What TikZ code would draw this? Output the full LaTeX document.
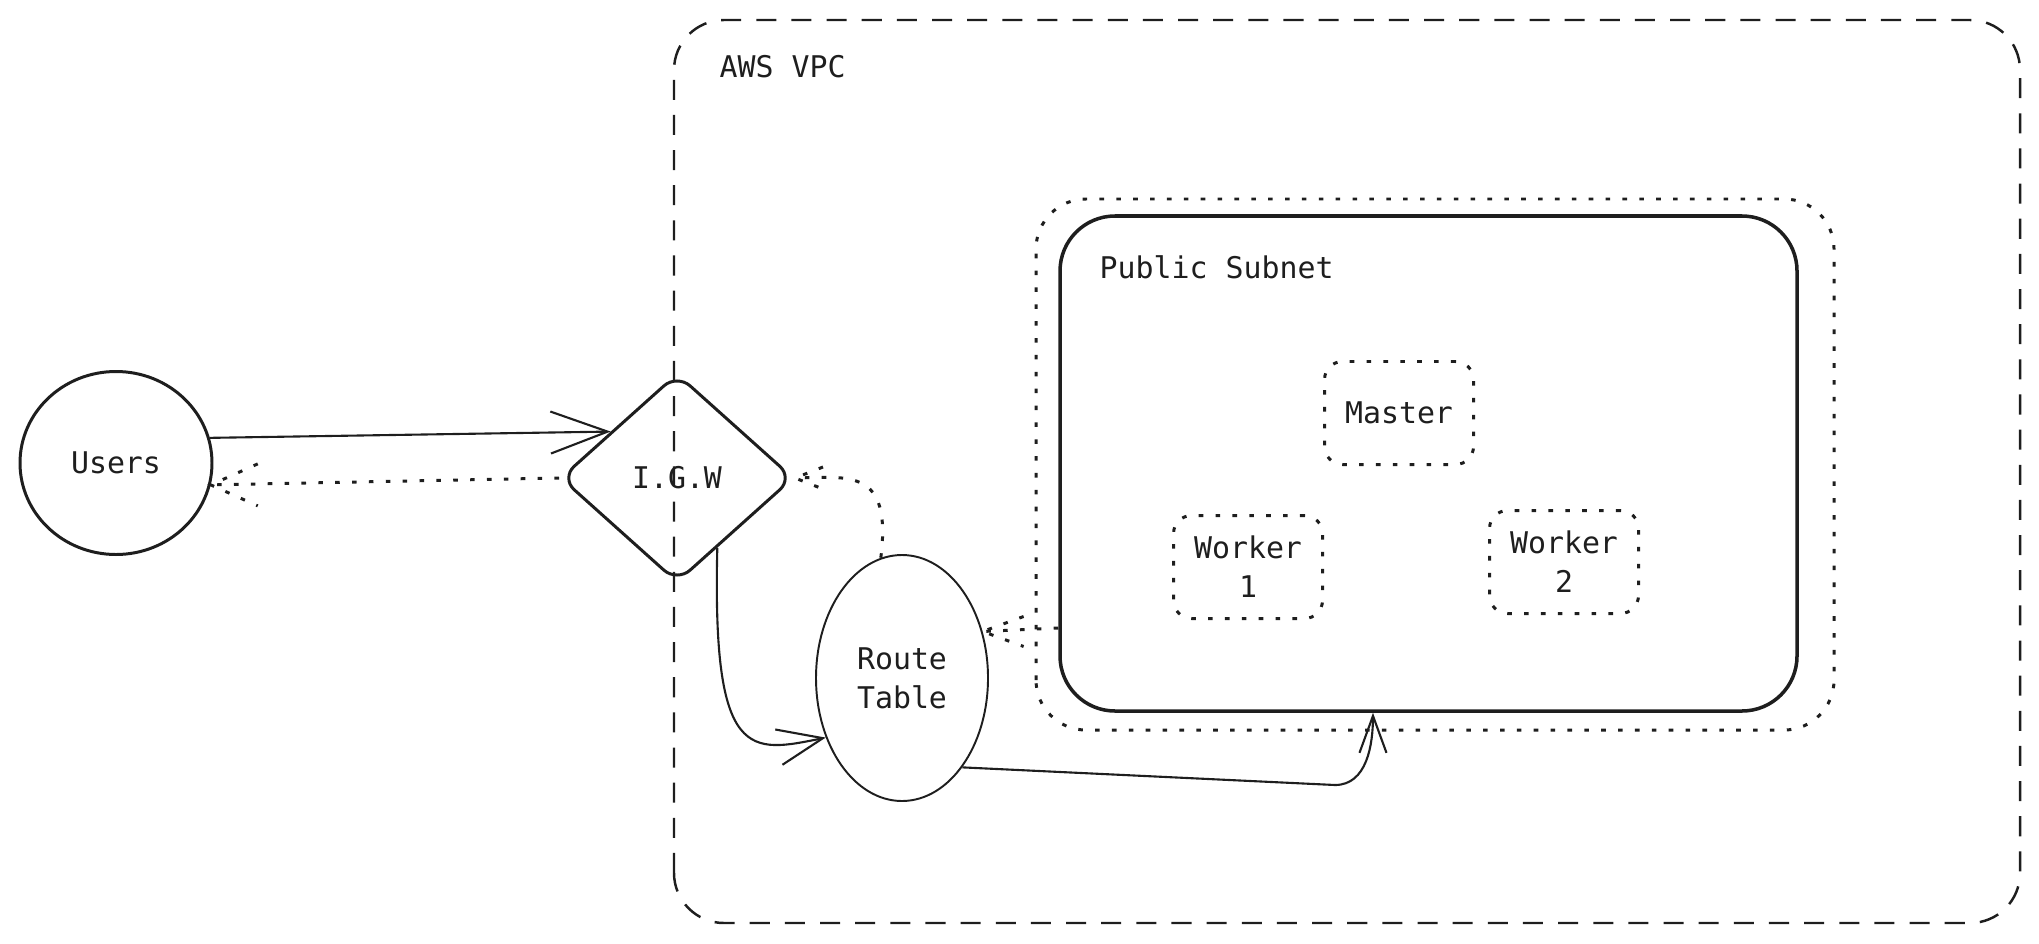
\documentclass[tikz,border=0pt]{standalone}
\usepackage{fontspec}
\newfontfamily\lblfont{DejaVu Sans Mono}
\usepackage{xcolor}
\usepackage{tikz}
\usetikzlibrary{arrows.meta,calc,shapes.geometric}

\definecolor{ink}{HTML}{1E1E1E}

\tikzset{
  txt/.style={font=\lblfont\fontsize{8.5}{11.1}\selectfont, text=ink},
  dotline/.style={dash pattern=on 1.3pt off 3.5pt, line width=0.85pt},
  conn/.style={draw=ink, line width=0.6pt},
  host/.style={txt, draw=ink, dotline, rounded corners=0.18cm, minimum width=1.49cm,
    minimum height=1.03cm, align=center, inner sep=0pt},
}

\begin{document}
\begin{tikzpicture}[>={Straight Barb[length=5.7mm,width=4.2mm]}]
    % 画布
    \useasboundingbox (0,0) rectangle (20.39,9.43);

    % VPC 外框
    \draw[ink, line width=0.7pt, dash pattern=on 5.7pt off 4.3pt, rounded corners=0.5cm]
        (6.74,0.20) rectangle (20.20,9.23);
    \node[txt, anchor=base west, inner sep=0pt] (vpclbl) at (7.19,8.66) {AWS VPC};

    % 公有子网
    \draw[ink, dotline, rounded corners=0.5cm] (10.36,2.13) rectangle (18.34,7.44);
    \node[draw=ink, line width=1pt, rounded corners=0.55cm, minimum width=7.37cm,
        minimum height=4.95cm] (subnet) at (14.285,4.795) {};
    \node[txt, anchor=base west, inner sep=0pt] (sublbl) at (10.99,6.65) {Public Subnet};

    % 主机
    \node[host] (master) at (13.99,5.30) {Master};
    \node[host] (worker1) at (12.48,3.76) {Worker\\1};
    \node[host] (worker2) at (15.64,3.81) {Worker\\2};

    % 用户、网关、路由表
    \node[txt, ellipse, draw=ink, line width=0.85pt, minimum width=1.92cm,
        minimum height=1.83cm, inner sep=0pt] (users) at (1.16,4.80) {Users};
    \node[txt, diamond, draw=ink, line width=0.85pt, rounded corners=5pt, minimum width=2.33cm,
        minimum height=2.09cm, inner sep=0pt] (igw) at (6.77,4.65) {I.G.W};
    \node[txt, ellipse, draw=ink, line width=0.55pt, minimum width=1.72cm,
        minimum height=2.46cm, inner sep=0pt, align=center] (rt) at (9.02,2.65) {Route\\Table};

    % 关键点
    \coordinate (subin) at ($(subnet.south west)!0.425!(subnet.south east)$);
    \coordinate (subout) at ($(subnet.south west)!0.17!(subnet.north west)$);

    % 用户 -> 网关
    \draw[conn,->] (users.15) -- (igw.145);

    % 网关 -> 用户
    \draw[conn, dotline] (igw.west) -- (users.-13);
    \draw[conn, dotline] ($(users.-13)+(0.47,0.21)$) -- (users.-13) -- ($(users.-13)+(0.47,-0.21)$);

    % 网关 -> 路由表
    \draw[conn, -{Straight Barb[length=4.5mm,width=3.6mm]}]
        (igw.-60) .. controls (7.12,1.8) and (7.5,1.9) .. (rt.218);

    % 路由表 -> 网关
    \draw[conn, dotline] (rt.100) .. controls (8.92,4.75) and (8.5,4.66) .. (igw.east);
    \draw[conn, dotline] ($(igw.east)+(0.28,0.11)$) -- (igw.east) -- ($(igw.east)+(0.28,-0.11)$);

    % 路由表 -> 子网
    \draw[conn, -{Straight Barb[length=3.7mm,width=2.7mm]}]
        (rt.-56) -- (13.35,1.58) to[out=0,in=-90] (subin);

    % 子网 -> 路由表
    \draw[conn, dotline] (subout) -- (rt.30);
    \draw[conn, dotline] ($(rt.30)+(0.41,0.15)$) -- (rt.30) -- ($(rt.30)+(0.41,-0.15)$);

\end{tikzpicture}
\end{document}
